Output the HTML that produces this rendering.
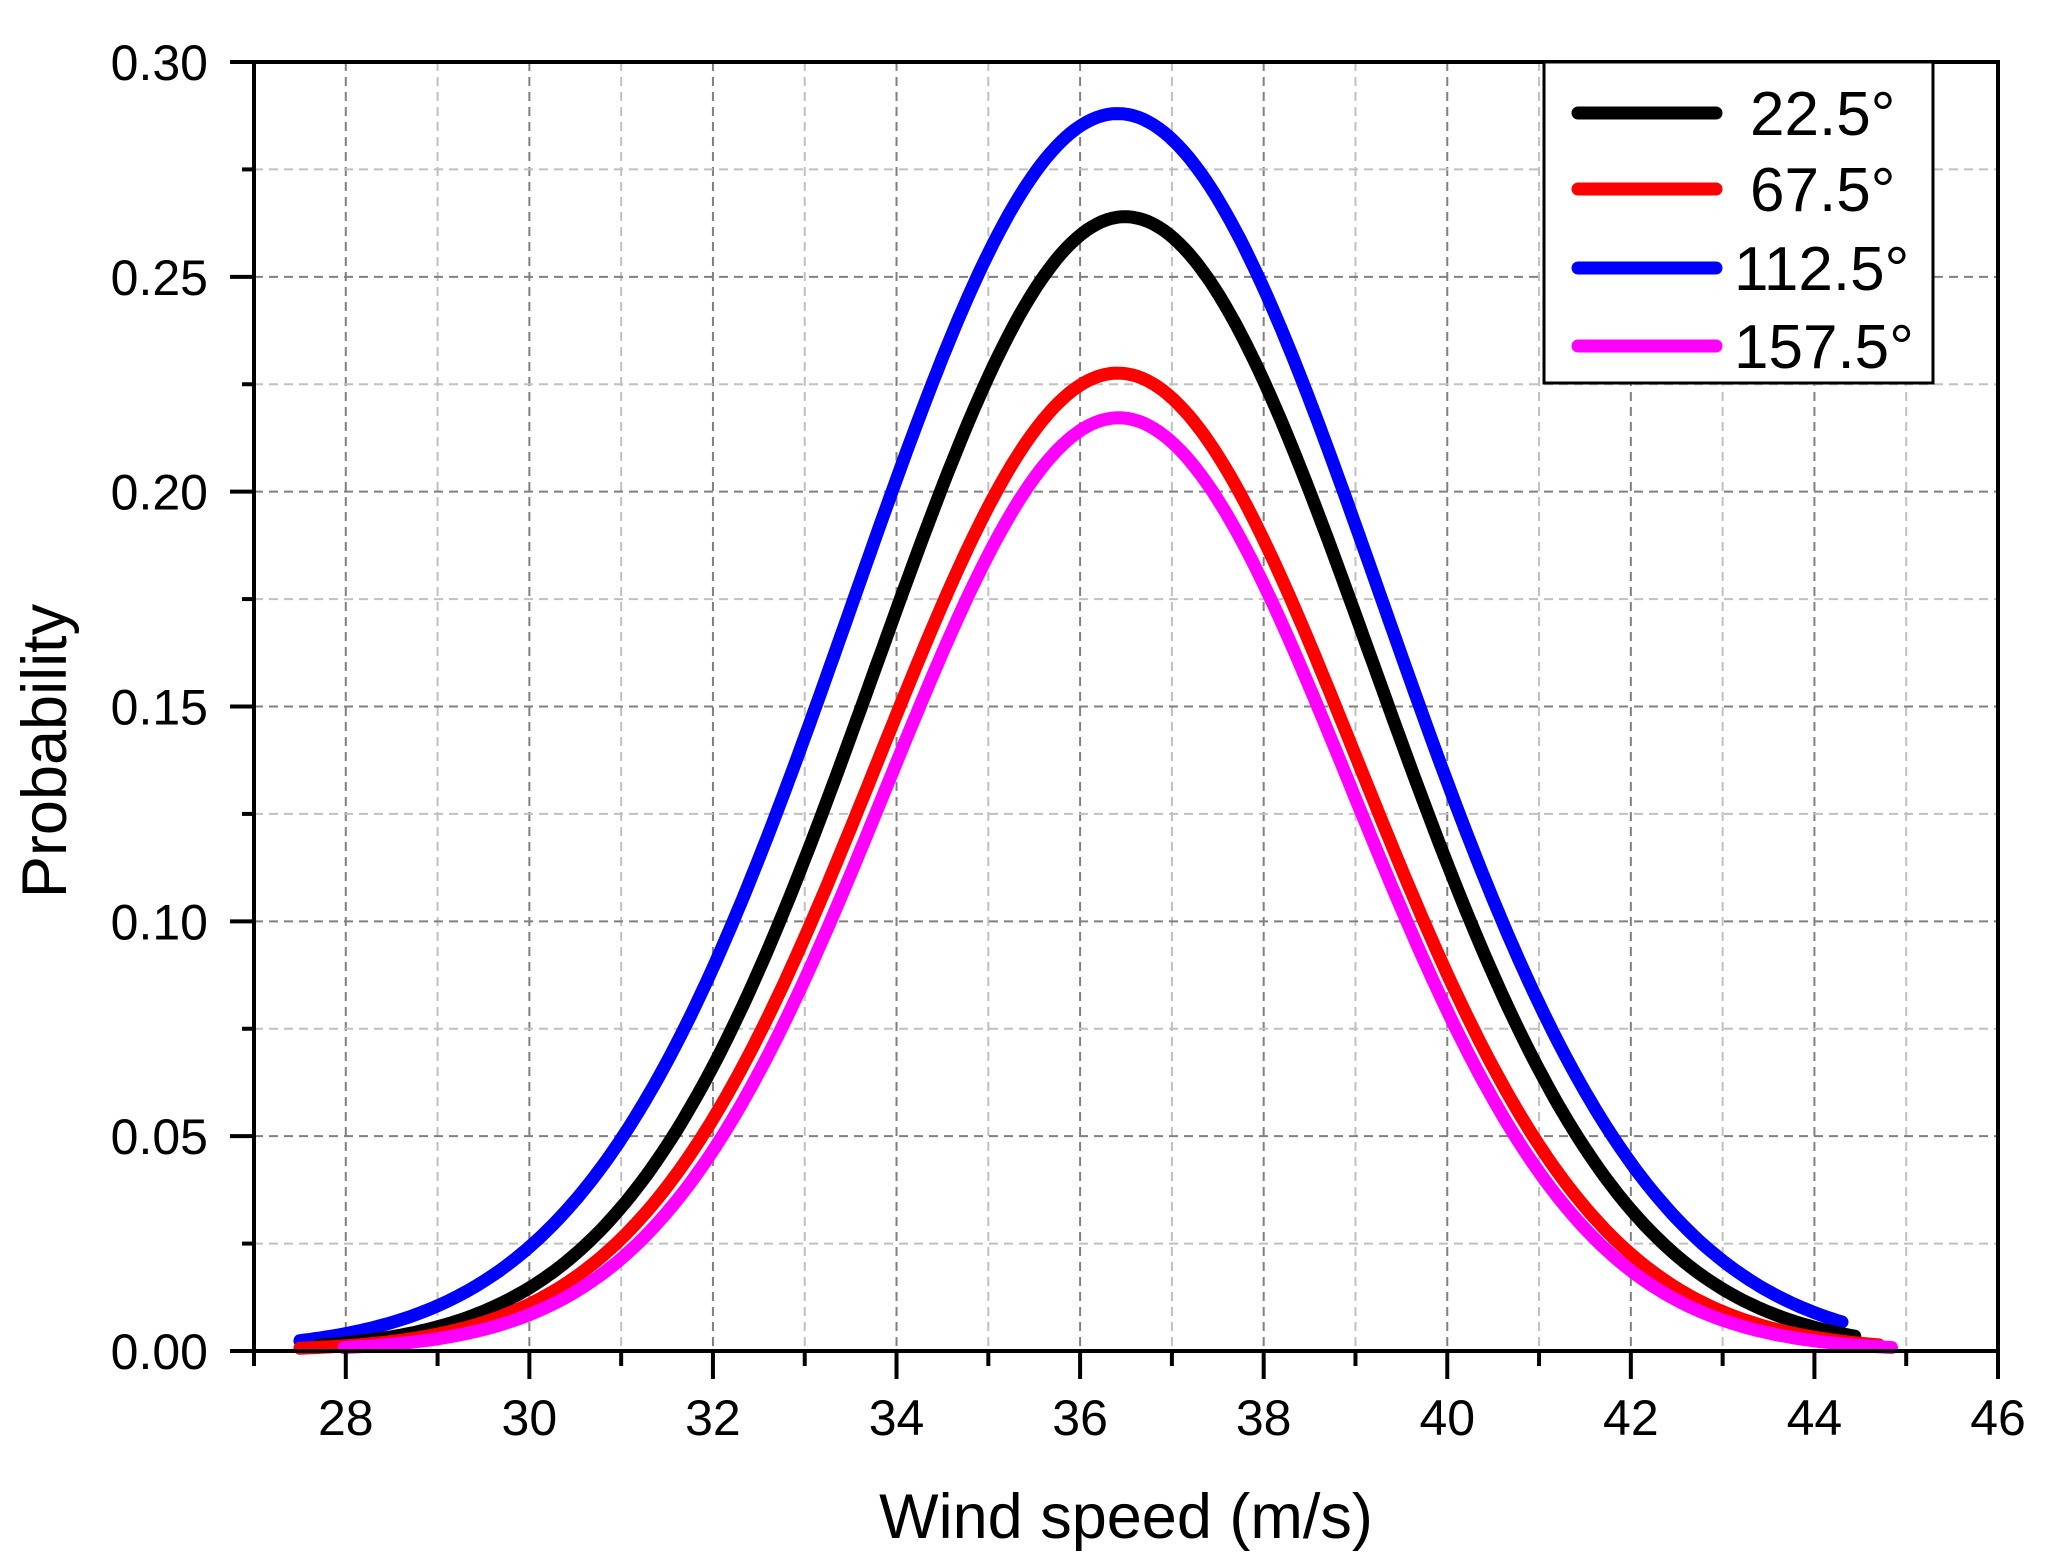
<!DOCTYPE html>
<html><head><meta charset="utf-8">
<style>
html,body{margin:0;padding:0;background:#fff;}
svg{display:block;}
text{font-family:"Liberation Sans",Arial,sans-serif;fill:#000;}
</style></head>
<body>
<svg id="s" width="2048" height="1568" viewBox="0 0 2048 1568" xmlns="http://www.w3.org/2000/svg">
<rect width="2048" height="1568" fill="#fff"/>
<g id="grid"></g>
<g id="curves" fill="none" stroke-width="13" stroke-linecap="round" stroke-linejoin="round"></g>
<rect x="254" y="62" width="1744" height="1289" fill="none" stroke="#000" stroke-width="4"/>
<g id="ticks" stroke="#000" stroke-width="4"></g>
<g id="labels" font-size="50"></g>
<text x="1126" y="1538" font-size="63" text-anchor="middle">Wind speed (m/s)</text>
<text transform="translate(66,751) rotate(-90)" font-size="63" text-anchor="middle">Probability</text>
<g>
<rect x="1544" y="62" width="389" height="321" fill="#fff" stroke="#000" stroke-width="3"/>
<g stroke-width="13" stroke-linecap="round">
<line x1="1578" y1="113" x2="1716" y2="113" stroke="#000"/>
<line x1="1578" y1="189" x2="1716" y2="189" stroke="#ff0000"/>
<line x1="1578" y1="268" x2="1716" y2="268" stroke="#0000ff"/>
<line x1="1578" y1="346" x2="1716" y2="346" stroke="#ff00ff"/>
</g>
<text x="1750" y="135" font-size="62">22.5°</text>
<text x="1750" y="211" font-size="62">67.5°</text>
<text x="1734" y="290" font-size="62">112.5°</text>
<text x="1734" y="368" font-size="62">157.5°</text>
</g>
</svg>
<script>
(function(){
var NS="http://www.w3.org/2000/svg";
var L=254,R=1998,T=62,B=1351;
function X(v){return L+(v-27)*(R-L)/19;}
function Y(p){return B-p*(B-T)/0.30;}
function el(tag,attrs,parent){var e=document.createElementNS(NS,tag);for(var k in attrs)e.setAttribute(k,attrs[k]);parent.appendChild(e);return e;}
var grid=document.getElementById('grid'),ticks=document.getElementById('ticks'),labels=document.getElementById('labels'),curves=document.getElementById('curves');
for(var v=28;v<=45;v++){
  var major=(v%2===0);
  el('line',{x1:X(v),y1:T,x2:X(v),y2:B,stroke:major?'#808080':'#c0c0c0','stroke-width':2,'stroke-dasharray':'9,6'},grid);
}
for(var i=1;i<12;i++){
  var p=i*0.025, major=(i%2===0);
  el('line',{x1:L,y1:Y(p),x2:R,y2:Y(p),stroke:major?'#808080':'#c0c0c0','stroke-width':2,'stroke-dasharray':'9,6'},grid);
}
for(var v=27;v<=46;v++){
  var major=(v%2===0);
  el('line',{x1:X(v),y1:B,x2:X(v),y2:B+(major?28:15)},ticks);
  if(major){var t=el('text',{x:X(v),y:1435,'text-anchor':'middle'},labels);t.textContent=String(v);}
}
for(var i=0;i<=12;i++){
  var p=i*0.025, major=(i%2===0);
  el('line',{x1:L,y1:Y(p),x2:L-(major?24:12),y2:Y(p)},ticks);
  if(major){var t=el('text',{x:208,y:Y(p)+18,'text-anchor':'end'},labels);t.textContent=(p).toFixed(2);}
}
var series=[
  {c:'#0000ff',A:0.288,mu:36.41,s:2.88,a:27.5,b:44.3},
  {c:'#000000',A:0.264,mu:36.49,s:2.70,a:27.7,b:44.44},
  {c:'#ff0000',A:0.2276,mu:36.41,s:2.60,a:27.5,b:44.7},
  {c:'#ff00ff',A:0.2172,mu:36.42,s:2.52,a:27.98,b:44.84}
];
series.forEach(function(S){
  var d='';
  for(var k=0;k<=300;k++){
    var v=S.a+(S.b-S.a)*k/300;
    var p=S.A*Math.exp(-Math.pow(v-S.mu,2)/(2*S.s*S.s));
    d+=(k?'L':'M')+X(v).toFixed(1)+' '+Y(p).toFixed(1);
  }
  el('path',{d:d,stroke:S.c},curves);
});
})();
</script>
</body></html>
